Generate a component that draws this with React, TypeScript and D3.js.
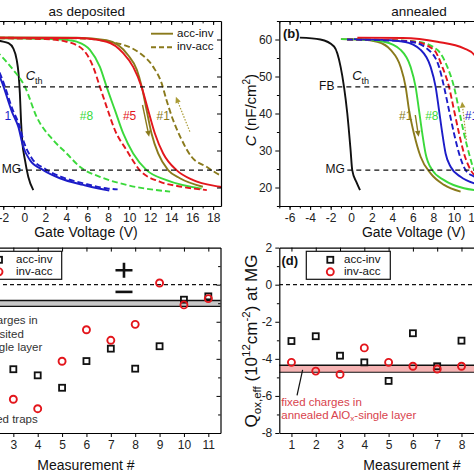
import { useEffect, useRef } from "react";
import * as d3 from "d3";

type Pt = [number, number];

const FONT = "'Liberation Sans', Arial, sans-serif";

const BLACK = "#111111";
const BLUE = "#1c1cc8";
const GREEN = "#3bd93b";
const RED = "#e3161c";
const OLIVE = "#8a7a1c";
const OLIVE_LT = "#a99a34";
const TXT_RED = "#d8434d";

// (a) as deposited — [gate voltage (V), C (nF/cm²)]
const A_BLACK: Pt[] = [[-5, 60.5], [-3, 60.2], [-2.3, 59.6], [-1.5, 59], [-1.05, 57.6], [-0.72, 54.5], [-0.55, 50.9], [-0.42, 45.5], [-0.3, 37.5], [-0.2, 32.8], [0.07, 27.4], [0.38, 22.9], [0.86, 19.3]];
const A_BLUE: Pt[] = [[-5, 60], [-4, 58.5], [-3.2, 55], [-2.6, 51.5], [-2.15, 48.6], [-1.17, 40.4], [-0.57, 36.4], [-0.1, 31], [0.54, 27.4], [1.81, 24.7], [3.4, 22.5], [5.62, 20.7], [7.85, 19.3], [8.1, 19.2]];
const A_BLUE_D: Pt[] = [[-5, 60], [-4, 58.7], [-3.1, 55.5], [-2.5, 52], [-2.1, 49.3], [-1.1, 41], [-0.5, 37], [0, 32], [0.7, 28], [2, 25], [3.6, 22.8], [5.8, 21], [8, 19.7], [8.9, 19.5]];
const A_GREEN_D: Pt[] = [[-5, 59.8], [-3.5, 58.5], [-2.8, 57.2], [-2.15, 55.4], [-1.05, 51.8], [0.07, 47.2], [1.18, 39.1], [2.76, 32.8], [4.04, 29.2], [5.3, 25.6], [7.2, 22.9], [9.75, 20.7], [13.9, 18.9]];
const A_GREEN: Pt[] = [[-5, 60.4], [2, 60.2], [4, 59.9], [5, 59.4], [6.26, 57.2], [7.21, 52.6], [7.85, 47.2], [8.64, 40.9], [9.43, 34.6], [10.38, 29.2], [11.66, 24.7], [13.56, 22], [16.9, 19.7]];
const A_RED_D: Pt[] = [[-5, 60.4], [2, 60.1], [4.04, 59.4], [5.62, 57.2], [6.57, 52.6], [7.21, 47.2], [7.85, 41.8], [8.64, 35.5], [9.75, 30.1], [11, 24.7], [12.9, 21.6], [15, 20.2], [17.4, 19.3]];
const A_OLIVE: Pt[] = [[-5, 60.6], [5, 60.5], [7.85, 59.8], [9.88, 55.8], [10.73, 51.8], [11.2, 47.2], [11.66, 40.9], [12.13, 34.6], [12.76, 29.2], [13.71, 24.7], [14.83, 22.5], [17.02, 20.2]];
const A_RED: Pt[] = [[-5, 60.5], [5, 60.4], [7.85, 59.4], [9.43, 56.3], [10.38, 52.6], [11.18, 47.2], [11.81, 40.9], [12.45, 34.6], [13.24, 29.2], [14.51, 24.7], [16.1, 22], [18.64, 20.2], [19, 20]];
const A_OLIVE_D: Pt[] = [[-5, 60.5], [5, 60.3], [8.16, 59.4], [11.02, 56.3], [12.29, 52.6], [13.09, 48.2], [13.56, 43.6], [14.19, 38.2], [14.9, 33.5], [15.94, 28.3], [17.37, 25.6], [18.64, 23.4], [19, 23]];

// (b) annealed
const B_BLACK: Pt[] = [[-5, 60.5], [-3, 60], [-1.67, 58.1], [-1.03, 52.6], [-0.7, 47.2], [-0.38, 40], [-0.06, 30.1], [0.1, 24.7], [0.5, 21.5], [0.86, 19.3]];
const B_OLIVE: Pt[] = [[-1, 60.1], [1, 60], [2.54, 59.4], [3.84, 57.2], [4.81, 52.6], [5.3, 47.2], [5.63, 40.9], [6.11, 34.6], [6.76, 28.3], [7.73, 23.8], [9.04, 20.7], [10.65, 18.9]];
const B_GREEN: Pt[] = [[-1, 60.1], [1, 60], [3.19, 59.4], [4.81, 57.2], [5.78, 52.6], [6.27, 47.2], [6.6, 40.9], [6.92, 34.6], [7.24, 29.2], [7.9, 24.7], [9.04, 22], [10.98, 19.8], [12, 19.3]];
const B_BLUE: Pt[] = [[0.27, 60.1], [3, 59.9], [5.14, 59.4], [6.76, 57.2], [7.73, 52.6], [8.22, 47.2], [8.55, 40.9], [8.87, 34.6], [9.19, 29.2], [9.68, 25.6], [10.65, 22.9], [12, 21.1]];
const B_BLUE_D: Pt[] = [[-0.4, 60], [3, 59.8], [5.78, 59.4], [7.73, 56.7], [8.55, 52.6], [9.04, 47.2], [9.52, 40.9], [10.01, 34.6], [10.5, 29.2], [11.14, 24.7], [12, 22.9], [13, 21.5]];
const B_RED_D: Pt[] = [[-0.4, 60], [3, 59.9], [6.11, 59.4], [8.06, 57.2], [8.87, 52.6], [9.52, 47.2], [10.01, 40.9], [10.5, 34.6], [10.98, 29.2], [11.63, 24.7], [12.5, 22.5], [13.5, 21]];
const B_GREEN_D: Pt[] = [[-0.4, 60], [3, 59.9], [6.44, 59.4], [8.38, 57.2], [9.36, 52.6], [10.01, 47.2], [10.5, 40.9], [10.98, 34.6], [11.47, 29.2], [11.99, 24.7], [13, 22.5]];
const B_RED: Pt[] = [[0.6, 60.5], [5, 60.4], [8.38, 59.4], [10.98, 57.6], [11.99, 55.8], [12.6, 52], [13.2, 46]];

const C_TH = 47.2;
const C_MG = 24.7;

// (c)/(d) Qox,eff at MG (10^12 cm^-2)
const C_MEAS = [3, 4, 5, 6, 7, 8, 9, 10, 11];
const C_ACC_INV = [-4.56, -4.89, -5.56, -4.12, -3.45, -4.53, -3.32, -0.81, -0.63];
const C_INV_ACC = [-6.18, -6.69, -4.13, -2.43, -3.0, -2.14, 0.09, -1.09, -0.75];
const C_BAND: [number, number] = [-1.17, -0.85];

const D_MEAS = [1, 2, 3, 4, 5, 6, 7, 8];
const D_ACC_INV = [-3.04, -2.78, -3.83, -4.19, -5.19, -2.62, -4.4, -3.02];
const D_INV_ACC = [-4.19, -4.66, -4.84, -3.41, -4.19, -4.4, -4.55, -4.4];
const D_BAND: [number, number] = [-4.72, -4.35];

const range = (a: number, b: number, s: number) => d3.range(a, b + s / 2, s);

export default function App() {
  const ref = useRef<SVGSVGElement>(null);

  useEffect(() => {
    const svg = d3.select(ref.current!);
    svg.selectAll("*").remove();
    const defs = svg.append("defs");

    const yC = d3.scaleLinear().domain([15, 65]).range([206, 21]);
    const xA = d3.scaleLinear().domain([-5, 18.75]).range([-28.2, 221]);
    const xB = d3.scaleLinear().domain([-7, 12.5]).range([279.3, 479.6]);
    const yQ = d3.scaleLinear().domain([-8, 2]).range([433, 247.6]);
    const xC = d3.scaleLinear().domain([0.5, 11.5]).range([-47.6, 220.5]);
    const xD = d3.scaleLinear().domain([0.5, 11.5]).range([279.3, 546.5]);

    const clip = (id: string, x: number, y: number, w: number, h: number) =>
      defs.append("clipPath").attr("id", id).append("rect").attr("x", x).attr("y", y).attr("width", w).attr("height", h);
    clip("ca", -60, 21, 282, 185);
    clip("cb", 279.3, 21, 220, 185);
    clip("cc", -60, 247.6, 280.5, 185.4);
    clip("cd", 279.3, 247.6, 220, 185.4);

    const text = (g: any, x: number, y: number, s: string, o: any = {}) =>
      g.append("text")
        .attr("x", x).attr("y", y)
        .attr("font-family", FONT).attr("font-size", o.size ?? 12)
        .attr("fill", o.fill ?? BLACK)
        .attr("text-anchor", o.anchor ?? "start")
        .attr("font-weight", o.weight ?? "normal")
        .attr("dominant-baseline", o.base ?? "auto")
        .text(s);

    // axis with major + minor ticks
    const axis = (make: () => d3.Axis<number>, tr: string, major: number[], minor: number[], size: number, labels: boolean) => {
      const gm = svg.append("g").attr("transform", tr)
        .call(make().tickValues(minor).tickSize(size * 0.6).tickSizeOuter(0).tickFormat(() => "") as any);
      gm.select(".domain").remove();
      gm.selectAll(".tick line").attr("stroke", "#000").attr("stroke-width", 1);
      const g = svg.append("g").attr("transform", tr)
        .call(make().tickValues(major).tickSize(size).tickSizeOuter(0).tickPadding(3)
          .tickFormat(labels ? (d: any) => String(d) : () => "") as any);
      g.select(".domain").attr("stroke", "#000").attr("stroke-width", 1.2);
      g.selectAll(".tick line").attr("stroke", "#000").attr("stroke-width", 1);
      g.selectAll(".tick text").attr("font-family", FONT).attr("font-size", 12).attr("fill", "#222");
    };

    const arrow = (g: any, x1: number, y1: number, x2: number, y2: number, color: string, dotted: boolean) => {
      const a = Math.atan2(y2 - y1, x2 - x1);
      const L = 6, W = 2.8;
      const bx = x2 - L * Math.cos(a), by = y2 - L * Math.sin(a);
      g.append("line").attr("x1", x1).attr("y1", y1).attr("x2", bx).attr("y2", by)
        .attr("stroke", color).attr("stroke-width", dotted ? 1.2 : 1.4)
        .attr("stroke-dasharray", dotted ? "1.5,1.5" : null);
      const p: Pt[] = [[x2, y2], [bx + W * Math.sin(a), by - W * Math.cos(a)], [bx - W * Math.sin(a), by + W * Math.cos(a)]];
      g.append("path").attr("d", d3.line()(p) + "Z").attr("fill", color);
    };

    const drawCurves = (clipId: string, x: any, curves: { d: Pt[]; c: string; dash?: boolean }[]) => {
      const g = svg.append("g").attr("clip-path", `url(#${clipId})`);
      const line = d3.line<Pt>().x((d) => x(d[0])).y((d) => yC(d[1])).curve(d3.curveMonotoneX);
      curves.forEach((cv) => {
        g.append("path").attr("d", line(cv.d)!).attr("fill", "none")
          .attr("stroke", cv.c).attr("stroke-width", 1.9)
          .attr("stroke-dasharray", cv.dash ? "6,3" : null);
      });
      return g;
    };

    const hdash = (g: any, x1: number, x2: number, y: number, dash = "5,4") =>
      g.append("line").attr("x1", x1).attr("x2", x2).attr("y1", y).attr("y2", y)
        .attr("stroke", BLACK).attr("stroke-width", 1.3).attr("stroke-dasharray", dash);

    const cth = (g: any, x: number, y: number) => {
      const t = text(g, x, y, "", { size: 13 });
      t.append("tspan").attr("font-style", "italic").text("C");
      t.append("tspan").attr("font-size", 9).attr("dy", 4).text("th");
    };

    // ================= (a) as deposited =================
    const gA = drawCurves("ca", xA, [
      { d: A_BLACK, c: BLACK },
      { d: A_BLUE_D, c: BLUE, dash: true },
      { d: A_BLUE, c: BLUE },
      { d: A_GREEN_D, c: GREEN, dash: true },
      { d: A_GREEN, c: GREEN },
      { d: A_RED_D, c: RED, dash: true },
      { d: A_OLIVE_D, c: OLIVE, dash: true },
      { d: A_OLIVE, c: OLIVE },
      { d: A_RED, c: RED },
    ]);
    hdash(gA, -40, 221, yC(C_TH));
    hdash(gA, xA(-0.6), 221, yC(C_MG));
    text(svg, xA(-2.15), yC(C_MG), "MG", { base: "middle" });
    cth(svg, xA(0.14), yC(50.1) + 4);
    text(svg, xA(-1.89), yC(39), "1", { fill: BLUE, base: "middle" });
    text(svg, xA(5.3), yC(39), "#8", { fill: GREEN, base: "middle" });
    text(svg, xA(9.4), yC(39), "#5", { fill: RED, base: "middle" });
    text(svg, xA(12.6), yC(39), "#1", { fill: OLIVE, base: "middle" });
    arrow(svg, xA(11.27), yC(42.3), xA(11.9), yC(33.7), OLIVE, false);
    arrow(svg, xA(15.78), yC(35.1), xA(14.45), yC(44.5), OLIVE_LT, true);

    axis(() => d3.axisBottom(xA), `translate(0,${yC(15)})`, range(-4, 18, 2), range(-5, 18, 1), 4, true);
    axis(() => d3.axisTop(xA), `translate(0,${yC(65)})`, range(-4, 18, 2), range(-5, 18, 1), -4, false);
    axis(() => d3.axisRight(yC), `translate(${xA.range()[1]},0)`, range(20, 60, 10), range(25, 55, 10), -4, false);

    // legend (a)
    [{ y: 33.7, dash: false, t: "acc-inv" }, { y: 47.3, dash: true, t: "inv-acc" }].forEach((l) => {
      svg.append("line").attr("x1", 151).attr("x2", 173).attr("y1", l.y).attr("y2", l.y)
        .attr("stroke", OLIVE).attr("stroke-width", 1.9).attr("stroke-dasharray", l.dash ? "5,3" : null);
      text(svg, 177, l.y, l.t, { size: 11.5, base: "middle" });
    });

    text(svg, 86.7, 16, "as deposited", { size: 13.5, anchor: "middle" });
    text(svg, 86, 236.5, "Gate Voltage (V)", { size: 14, anchor: "middle" });

    // ================= (b) annealed =================
    const gB = drawCurves("cb", xB, [
      { d: B_BLACK, c: BLACK },
      { d: B_OLIVE, c: OLIVE },
      { d: B_GREEN, c: GREEN },
      { d: B_BLUE, c: BLUE },
      { d: B_GREEN_D, c: GREEN, dash: true },
      { d: B_RED_D, c: RED, dash: true },
      { d: B_BLUE_D, c: BLUE, dash: true },
      { d: B_RED, c: RED },
    ]);
    hdash(gB, xB(-1.35), 480, yC(C_TH));
    hdash(gB, xB(-0.38), 480, yC(C_MG));
    text(svg, xB(-3.13), yC(C_TH), "FB", { base: "middle" });
    text(svg, xB(-2.5), yC(C_MG), "MG", { base: "middle" });
    cth(svg, xB(0.1), yC(50.1) + 4);
    text(svg, xB(4.65), yC(39), "#1", { fill: OLIVE, base: "middle" });
    text(svg, xB(7.2), yC(39), "#8", { fill: GREEN, base: "middle" });
    text(svg, xB(11.05), yC(39), "#11", { fill: BLUE, base: "middle" });
    arrow(svg, xB(6.24), yC(39.6), xB(6.56), yC(33.7), OLIVE, false);
    arrow(svg, xB(11.21), yC(32.8), xB(10.79), yC(43.2), OLIVE_LT, true);

    axis(() => d3.axisBottom(xB), `translate(0,${yC(15)})`, range(-6, 12, 2), range(-7, 12, 1), 4, true);
    axis(() => d3.axisTop(xB), `translate(0,${yC(65)})`, range(-6, 12, 2), range(-7, 12, 1), -4, false);
    axis(() => d3.axisLeft(yC), `translate(${xB.range()[0]},0)`, range(20, 60, 10), range(15, 65, 5).filter((v) => v % 10 !== 0), 4, true);

    text(svg, 283, 38, "(b)", { size: 13, weight: "bold" });
    text(svg, 419, 16, "annealed", { size: 13.5, anchor: "middle" });
    text(svg, 413.7, 236.5, "Gate Voltage (V)", { size: 14, anchor: "middle" });
    const yl = text(svg, 0, 0, "", { size: 15, anchor: "middle" }).attr("transform", "translate(256,110) rotate(-90)");
    yl.append("tspan").attr("font-style", "italic").text("C");
    yl.append("tspan").text(" (nF/cm");
    yl.append("tspan").attr("font-size", 10).attr("dy", -6).text("2");
    yl.append("tspan").attr("dy", 6).text(")");

    // ================= (c)/(d) Qox =================
    const markers = (g: any, x: any, xs: number[], sq: number[], ci: number[]) => {
      xs.forEach((m, i) => {
        g.append("rect").attr("x", x(m) - 3).attr("y", yQ(sq[i]) - 3).attr("width", 6).attr("height", 6)
          .attr("fill", "none").attr("stroke", BLACK).attr("stroke-width", 1.8);
      });
      xs.forEach((m, i) => {
        g.append("circle").attr("cx", x(m)).attr("cy", yQ(ci[i])).attr("r", 3.5)
          .attr("fill", "none").attr("stroke", RED).attr("stroke-width", 1.9);
      });
    };
    const band = (g: any, x1: number, x2: number, b: [number, number], fill: string) => {
      g.append("rect").attr("x", x1).attr("y", yQ(b[1])).attr("width", x2 - x1).attr("height", yQ(b[0]) - yQ(b[1])).attr("fill", fill);
      b.forEach((v, i) => g.append("line").attr("x1", x1).attr("x2", x2).attr("y1", yQ(v)).attr("y2", yQ(v))
        .attr("stroke", BLACK).attr("stroke-width", i === 1 ? 1.5 : 1.1));
    };
    const legendBox = (x: number, w: number, mx: number, tx: number) => {
      svg.append("rect").attr("x", x).attr("y", 251.3).attr("width", w).attr("height", 28)
        .attr("fill", "#fff").attr("stroke", BLACK).attr("stroke-width", 1.2);
      svg.append("rect").attr("x", mx - 3).attr("y", 259.8 - 3).attr("width", 6).attr("height", 6)
        .attr("fill", "none").attr("stroke", BLACK).attr("stroke-width", 1.8);
      svg.append("circle").attr("cx", mx).attr("cy", 271.8).attr("r", 3.5)
        .attr("fill", "none").attr("stroke", RED).attr("stroke-width", 1.9);
      text(svg, tx, 260, "acc-inv", { size: 11.5, base: "middle" });
      text(svg, tx, 272, "inv-acc", { size: 11.5, base: "middle" });
    };

    // (c)
    const gC = svg.append("g").attr("clip-path", "url(#cc)");
    band(gC, -60, 221, C_BAND, "#c8c8c8");
    hdash(gC, -60, 221, yQ(0), "4,3");
    markers(gC, xC, C_MEAS, C_ACC_INV, C_INV_ACC);
    const cx = xC(7.54);
    svg.append("path").attr("d", `M${cx - 8.5},${yQ(0.78)}H${cx + 8.5}M${cx},${yQ(0.78) - 7.5}V${yQ(0.78) + 7.5}`)
      .attr("stroke", BLACK).attr("stroke-width", 2.6);
    svg.append("path").attr("d", `M${cx - 8.5},${yQ(-0.39)}H${cx + 8.5}`).attr("stroke", BLACK).attr("stroke-width", 2.6);
    text(svg, xC(4.0), yQ(-1.97), "fixed charges in", { size: 11.5, anchor: "end", base: "middle", fill: "#333" });
    text(svg, xC(3.43), yQ(-2.7), "as-deposited", { size: 11.5, anchor: "end", base: "middle", fill: "#333" });
    text(svg, xC(4.19), yQ(-3.4), "AlOx-single layer", { size: 11.5, anchor: "end", base: "middle", fill: "#333" });
    text(svg, xC(4.0), yQ(-7.31), "charged traps", { size: 11.5, anchor: "end", base: "middle", fill: "#333" });
    axis(() => d3.axisBottom(xC), `translate(0,${yQ(-8)})`, range(1, 11, 1), [], 4, true);
    axis(() => d3.axisTop(xC), `translate(0,${yQ(2)})`, range(1, 11, 1), [], -4, false);
    axis(() => d3.axisRight(yQ), `translate(${xC.range()[1]},0)`, range(-6, 0, 2), range(-7, 1, 2), -4, false);
    legendBox(-5, 66.7, -1, 16);
    text(svg, 86, 469.5, "Measurement #", { size: 14, anchor: "middle" });

    // (d)
    const gD = svg.append("g").attr("clip-path", "url(#cd)");
    band(gD, 279, 480, D_BAND, "#f6b3b3");
    hdash(gD, 279, 480, yQ(0), "4,3");
    markers(gD, xD, D_MEAS, D_ACC_INV, D_INV_ACC);
    svg.append("line").attr("x1", xD(1.23)).attr("y1", yQ(-5.97)).attr("x2", xD(1.46)).attr("y2", yQ(-4.6))
      .attr("stroke", BLACK).attr("stroke-width", 1.2);
    text(svg, xD(0.58), yQ(-6.36), "fixed charges in", { size: 11.5, base: "middle", fill: TXT_RED });
    const an = text(svg, xD(0.58), yQ(-7.08), "annealed AlO", { size: 11.5, base: "middle", fill: TXT_RED });
    an.append("tspan").attr("font-size", 8).attr("dy", 3).text("x");
    an.append("tspan").attr("dy", -3).text("-single layer");
    axis(() => d3.axisBottom(xD), `translate(0,${yQ(-8)})`, range(1, 11, 1), [], 4, true);
    axis(() => d3.axisTop(xD), `translate(0,${yQ(2)})`, range(1, 11, 1), [], -4, false);
    axis(() => d3.axisLeft(yQ), `translate(${xD.range()[0]},0)`, range(-8, 2, 2), range(-7, 1, 2), 4, true);
    legendBox(306.3, 84, 330.3, 344);
    text(svg, 281.5, 265, "(d)", { size: 13, weight: "bold" });
    text(svg, 412, 469.5, "Measurement #", { size: 14, anchor: "middle" });
    const ql = text(svg, 0, 0, "", { size: 17, anchor: "middle" }).attr("transform", "translate(257,341) rotate(-90)");
    ql.append("tspan").text("Q");
    ql.append("tspan").attr("font-size", 11.5).attr("dy", 4).text("ox,eff");
    ql.append("tspan").attr("dy", -4).text(" (10");
    ql.append("tspan").attr("font-size", 11.5).attr("dy", -7).text("12");
    ql.append("tspan").attr("dy", 7).text("cm");
    ql.append("tspan").attr("font-size", 11.5).attr("dy", -7).text("-2");
    ql.append("tspan").attr("dy", 7).text(") at MG");
  }, []);

  return (
    <svg
      ref={ref}
      width={474}
      height={474}
      style={{ position: "absolute", left: 0, top: 0, background: "#fff" }}
    />
  );
}
